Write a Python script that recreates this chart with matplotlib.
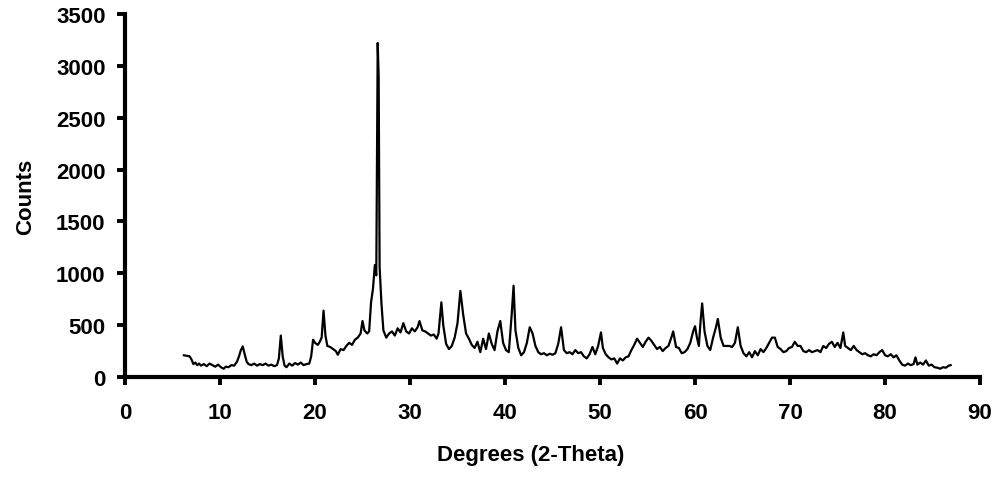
import numpy as np
from matplotlib import pyplot as plt

# 2-theta (deg) and counts
two_theta = [6.2, 6.5, 6.8, 7.0, 7.2, 7.4, 7.6, 7.8, 8.0, 8.3, 8.6, 8.9, 9.2, 9.5, 9.8, 10.1, 10.4, 10.6, 10.9, 11.2,
             11.5, 11.8, 12.0, 12.2, 12.4, 12.6, 12.8, 13.0, 13.3, 13.6, 13.9, 14.2, 14.5, 14.8, 15.1, 15.4, 15.7, 16.0, 16.2, 16.4,
             16.6, 16.8, 17.0, 17.3, 17.6, 17.9, 18.2, 18.5, 18.8, 19.1, 19.4, 19.6, 19.8, 20.0, 20.3, 20.5, 20.7, 20.9, 21.1, 21.3,
             21.6, 21.9, 22.2, 22.4, 22.7, 23.0, 23.3, 23.6, 23.9, 24.2, 24.5, 24.8, 25.0, 25.2, 25.5, 25.7, 25.9, 26.1, 26.3, 26.45,
             26.6, 26.7, 26.8, 27.0, 27.2, 27.5, 27.8, 28.1, 28.4, 28.7, 29.0, 29.3, 29.6, 29.9, 30.2, 30.5, 30.8, 31.0, 31.3, 31.6,
             31.9, 32.2, 32.5, 32.8, 33.0, 33.3, 33.5, 33.8, 34.1, 34.4, 34.7, 35.0, 35.3, 35.6, 35.9, 36.2, 36.5, 36.8, 37.1, 37.4,
             37.7, 38.0, 38.3, 38.6, 38.9, 39.2, 39.5, 39.8, 40.1, 40.4, 40.7, 40.9, 41.1, 41.4, 41.7, 42.0, 42.3, 42.6, 42.9, 43.2,
             43.5, 43.8, 44.1, 44.4, 44.7, 45.0, 45.3, 45.6, 45.9, 46.2, 46.5, 46.8, 47.1, 47.4, 47.7, 48.0, 48.3, 48.6, 48.9, 49.2,
             49.5, 49.8, 50.1, 50.3, 50.6, 50.9, 51.2, 51.5, 51.8, 52.1, 52.4, 52.7, 53.0, 53.3, 53.6, 53.9, 54.2, 54.5, 54.8, 55.1,
             55.4, 55.7, 56.0, 56.3, 56.6, 56.9, 57.2, 57.5, 57.7, 58.0, 58.3, 58.6, 58.9, 59.2, 59.5, 59.8, 60.0, 60.2, 60.4, 60.6,
             60.75, 61.0, 61.3, 61.6, 61.9, 62.2, 62.4, 62.7, 63.0, 63.3, 63.6, 63.9, 64.2, 64.5, 64.8, 65.1, 65.4, 65.7, 66.0, 66.3,
             66.6, 66.9, 67.2, 67.5, 67.8, 68.1, 68.4, 68.7, 69.0, 69.3, 69.6, 69.9, 70.2, 70.5, 70.8, 71.1, 71.4, 71.7, 72.0, 72.3,
             72.6, 72.9, 73.2, 73.5, 73.8, 74.1, 74.4, 74.7, 75.0, 75.3, 75.6, 75.8, 76.1, 76.4, 76.7, 77.0, 77.3, 77.6, 77.9, 78.2,
             78.5, 78.8, 79.1, 79.4, 79.7, 80.0, 80.3, 80.6, 80.9, 81.2, 81.5, 81.8, 82.1, 82.4, 82.7, 83.0, 83.2, 83.4, 83.7, 84.0,
             84.3, 84.6, 84.9, 85.2, 85.5, 85.8, 86.1, 86.4, 86.7, 86.9]
counts = [210, 205, 200, 170, 125, 140, 115, 130, 110, 125, 105, 130, 115, 100, 120, 95, 80, 100, 95, 115,
          110, 150, 200, 260, 295, 220, 150, 125, 115, 130, 110, 125, 115, 130, 110, 120, 105, 115, 180, 400,
          200, 110, 95, 130, 110, 135, 120, 140, 115, 125, 130, 200, 360, 330, 310, 340, 380, 640, 400, 300,
          290, 270, 250, 215, 270, 260, 300, 330, 310, 360, 380, 420, 540, 450, 420, 440, 720, 850, 1080, 980,
          3220, 2900, 1060, 700, 450, 380, 420, 440, 400, 470, 430, 520, 440, 420, 470, 440, 480, 540, 450, 440,
          420, 400, 410, 370, 420, 720, 500, 320, 270, 300, 380, 520, 830, 600, 420, 370, 310, 280, 340, 240,
          370, 270, 420, 320, 260, 440, 540, 330, 260, 240, 600, 880, 450, 280, 210, 240, 330, 480, 420, 300,
          240, 220, 230, 210, 225, 215, 230, 320, 480, 260, 230, 240, 220, 260, 230, 240, 200, 180, 220, 290,
          220, 300, 430, 280, 220, 190, 170, 180, 130, 180, 160, 190, 200, 260, 310, 370, 330, 290, 340, 380,
          350, 310, 270, 290, 250, 280, 300, 380, 440, 290, 280, 230, 240, 270, 330, 440, 490, 380, 300, 560,
          710, 440, 300, 260, 380, 480, 560, 380, 300, 300, 300, 290, 330, 480, 300, 230, 200, 240, 190, 250,
          210, 270, 240, 280, 330, 380, 380, 290, 270, 240, 250, 280, 290, 340, 300, 300, 250, 240, 260, 240,
          250, 260, 240, 300, 280, 320, 340, 290, 330, 280, 430, 300, 280, 260, 300, 260, 240, 220, 230, 210,
          200, 220, 210, 240, 260, 210, 200, 220, 190, 210, 160, 120, 110, 130, 115, 125, 190, 120, 140, 120,
          160, 110, 120, 95, 90, 80, 95, 90, 110, 115]

x_ticks = [0, 10, 20, 30, 40, 50, 60, 70, 80, 90]
y_ticks = [0, 500, 1000, 1500, 2000, 2500, 3000, 3500]

plt.rcParams['font.family'] = ['Liberation Sans', 'DejaVu Sans']
plt.rcParams['font.weight'] = 'bold'

fig = plt.figure(figsize=(9.95, 4.81), dpi=100)
ax = fig.add_axes([0.1256, 0.214, 0.8594, 0.755])

ax.plot(two_theta, counts, color='black', linewidth=1.6)

ax.set_xlim(0, 90)
ax.set_ylim(0, 3500)
ax.set_xticks(x_ticks)
ax.set_yticks(y_ticks)

for s in ['top', 'right']:
    ax.spines[s].set_visible(False)
for s in ['left', 'bottom']:
    ax.spines[s].set_linewidth(3)
ax.tick_params(direction='out', length=6, width=2.8, labelsize=16)
ax.tick_params(axis='x', pad=12)
ax.tick_params(axis='y', pad=8)

ax.set_xlabel('Degrees (2-Theta)', fontsize=16, fontweight='bold', va='center')
ax.xaxis.set_label_coords(0.475, -0.212)
ax.set_ylabel('Counts', fontsize=16, fontweight='bold', labelpad=14)

plt.savefig('out.png', dpi=100)
